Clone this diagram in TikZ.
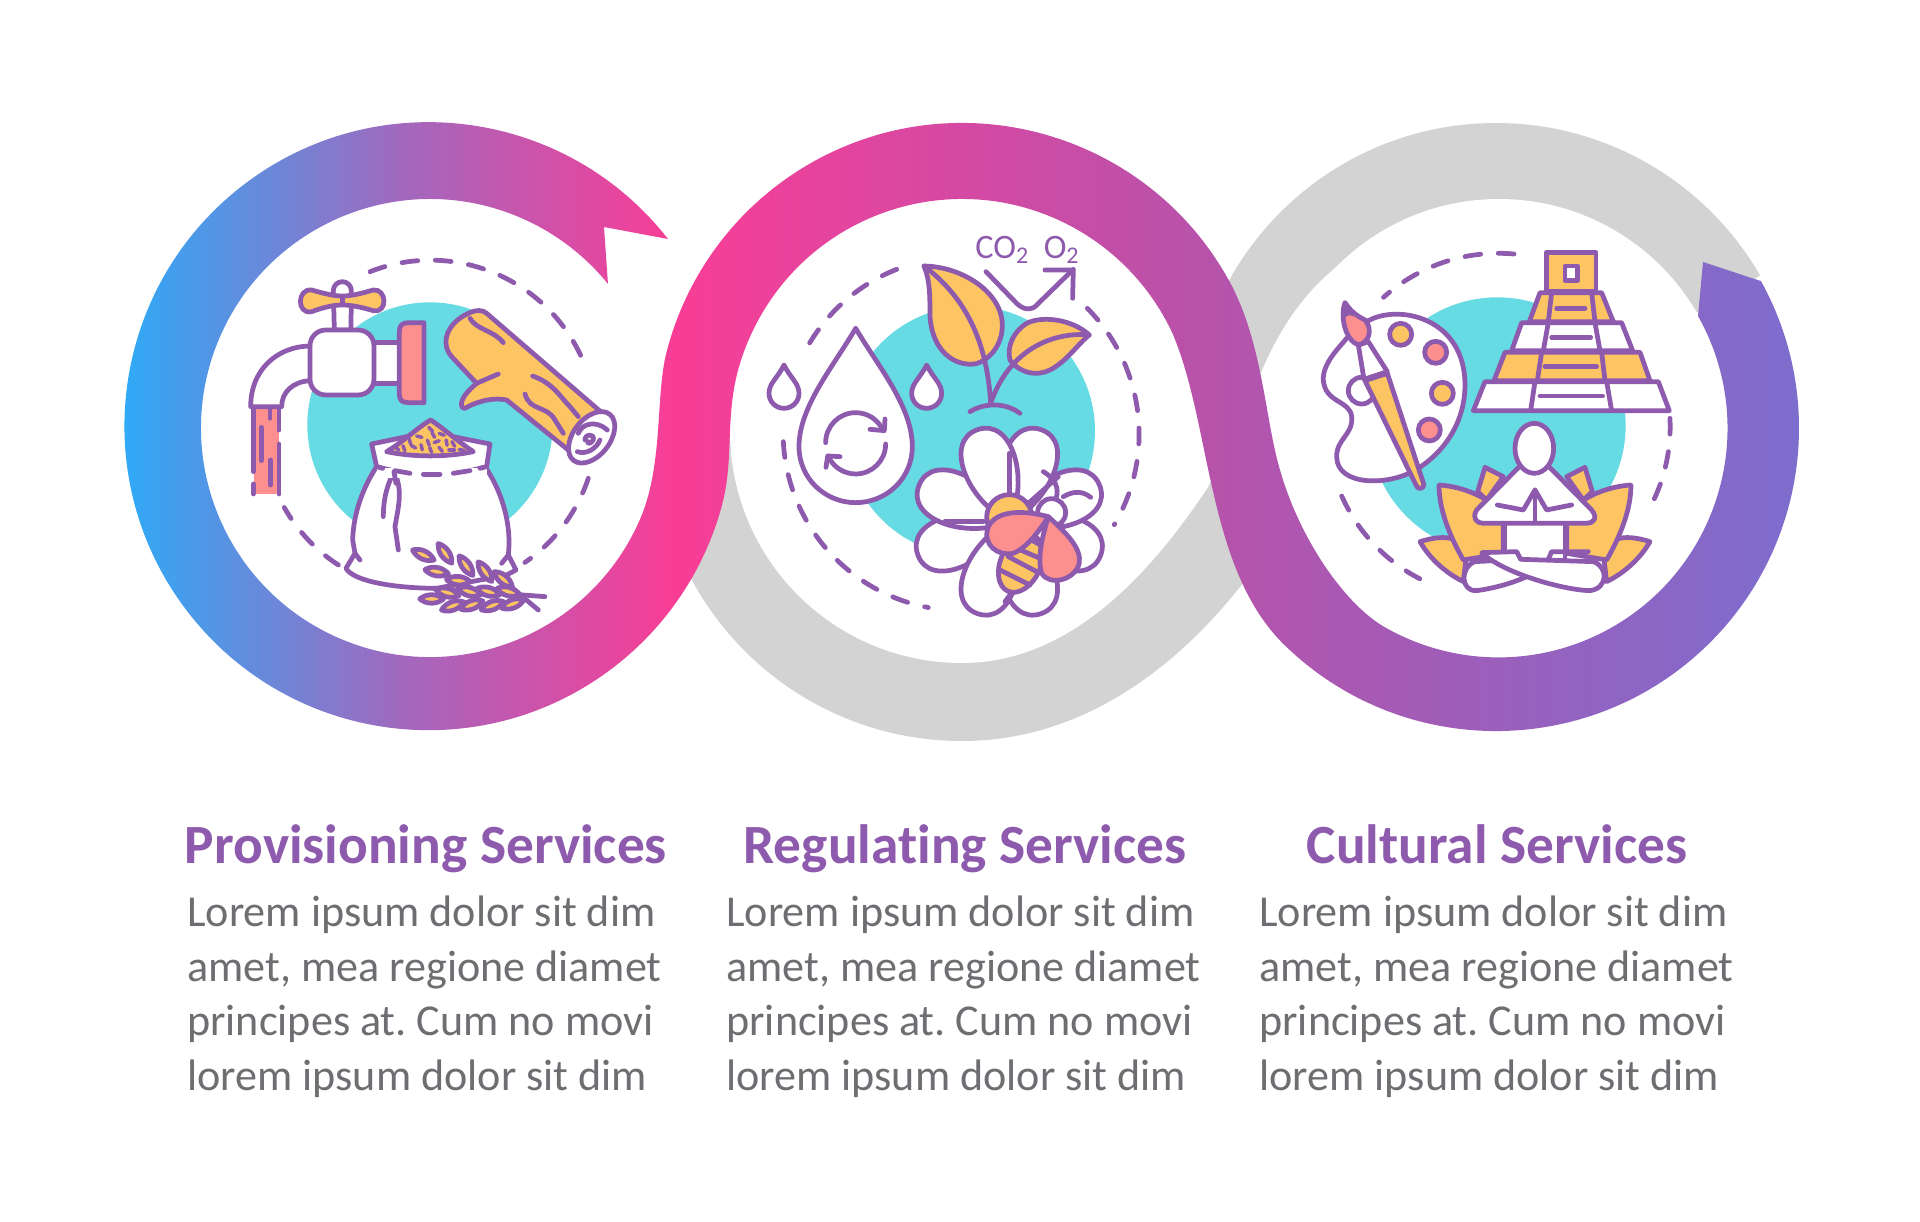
\documentclass[tikz,border=0pt]{standalone}
\usepackage{fontspec}
\setmainfont[Ligatures=NoCommon]{Carlito}
\definecolor{linepurple}{HTML}{8E5AAD}
\definecolor{orangefill}{HTML}{FDC463}
\definecolor{salmonfill}{HTML}{FE8F8F}
\definecolor{cyanfill}{HTML}{67DBE3}
\definecolor{ringgray}{HTML}{D3D3D3}
\definecolor{bodygray}{HTML}{6D6E71}
\definecolor{stopa}{HTML}{1FB3FF}
\definecolor{stopb}{HTML}{A268BD}
\definecolor{stopc}{HTML}{F93D96}
\definecolor{stopd}{HTML}{E2459F}
\definecolor{stope}{HTML}{B852AA}
\definecolor{stopf}{HTML}{7A6ECF}
\pgfdeclarehorizontalshading{ribbonfade}{100bp}{color(0bp)=(stopa); color(25bp)=(stopa); color(34.15bp)=(stopb); color(41.9bp)=(stopc); color(47bp)=(stopd); color(57bp)=(stope); color(75bp)=(stopf); color(100bp)=(stopf)}
\tikzset{
  iconline/.style={draw=linepurple, line width=2.7pt, line cap=round, line join=round},
  dashring/.style={iconline, dash pattern=on 9pt off 10pt},
  titletext/.style={text=linepurple, font=\fontsize{31.5}{36}\selectfont\bfseries, anchor=base},
  bodytext/.style={text=bodygray, font=\frenchspacing\fontsize{25.1}{31}\selectfont, align=left, anchor=north west, inner sep=0pt},
  formula/.style={text=linepurple, font=\fontsize{19.5}{22}\selectfont, inner sep=0pt}
}
\newcommand{\wheatgrain}[3]{\draw[iconline, fill=orangefill, shift={(#1,#2)}, rotate=-#3] (-36,0) .. controls (-15,-17) and (15,-17) .. (36,0) .. controls (15,17) and (-15,17) .. cycle;}
\newcommand{\loremlines}{Lorem ipsum dolor sit dim\\amet, mea regione diamet\\principes at. Cum no movi\\lorem ipsum dolor sit dim}
\begin{document}
\begin{tikzpicture}[x=0.02cm, y=-0.02cm]
  \useasboundingbox (0,0) rectangle (1920,1221);
  \fill[white] (0,0) rectangle (1920,1221);
  \fill[ringgray] (1191,428) arc (180:330:305) -- (1499,428) -- cycle;
  \fill[ringgray] (655,434) arc (180:90:307) .. controls (1080,741) and (1175,670) .. (1243,583) -- (1270,430) -- cycle;
  \fill[white] (430,428) circle (229);
  \fill[white] (1499,428) circle (229);
  \fill[white] (1250,430) -- (1258,380) .. controls (1278,330) and (1305,290) .. (1343,262) -- (1499,428) -- cycle;
  \fill[white] (730,431) arc (180:90:232) .. controls (1060,663) and (1140,590) .. (1208,487) -- (1235,430) -- (1172,333) arc (-25:-180:232) -- cycle;
  \path[shading=ribbonfade] (668,239) arc (-38:-345:304)
    .. controls (737.5,445.5) and (718.5,401) .. (753.5,329.3) arc (206:335:232)
    .. controls (1212,425) and (1206,570) .. (1285.5,646) arc (134:-29:303)
    -- (1703,262) -- (1698,316) arc (-29.4:120:229)
    .. controls (1345,604) and (1300,540) .. (1280,470) .. controls (1265,420) and (1263,343) .. (1229.5,281.5) arc (-28.7:-165:305)
    .. controls (655,392) and (664,462) .. (640.8,517.5) arc (23:321:229)
    -- (604,227) -- cycle;

  \begin{scope}[shift={(220,220)}, scale=0.3333]
    \fill[cyanfill] (630,615) circle (368);
    \draw[dashring] (450,155) arc (-111.4:-22:498);
    \draw[dashring] (1105,775) arc (18.5:55.5:498);
    \draw[dashring] (355,1035) arc (123:150.5:498);
    \fill[salmonfill] (102,565) rectangle (178,822);
    \foreach \xa/\ya/\yb in {100/565/755, 100/792/822, 177/568/630, 177/672/822, 150/568/595, 124/622/722, 152/720/795}
      \draw[iconline] (\xa,\ya) -- (\xa,\yb);
    \draw[iconline, fill=white] (270,378) .. controls (170,380) and (92,450) .. (92,560) -- (185,560) .. controls (185,515) and (220,485) .. (270,482);
    \draw[iconline, fill=white] (340,212) arc (180:360:27) -- (393,330) -- (343,330) -- cycle;
    \draw[iconline, fill=orangefill] (275,210) .. controls (310,220) and (340,228) .. (367,228) .. controls (395,228) and (425,220) .. (460,210) .. controls (500,205) and (505,280) .. (460,272) .. controls (425,262) and (395,255) .. (367,255) .. controls (340,255) and (310,262) .. (275,275) .. controls (230,285) and (230,205) .. cycle;
    \draw[iconline] (368,232) -- (368,254);
    \draw[iconline, fill=white] (462,368) rectangle (538,490);
    \draw[iconline, fill=white, rounded corners=9pt] (270,330) rectangle (462,525);
    \draw[iconline, fill=salmonfill] (612,308) -- (565,308) .. controls (545,308) and (538,318) .. (538,335) -- (538,522) .. controls (538,540) and (545,548) .. (565,548) -- (612,548) -- cycle;

    \draw[iconline, fill=orangefill] (800,280) -- (1150,582) -- (1045,690) -- (860,540) .. controls (810,530) and (760,550) .. (735,565) .. controls (718,565) and (715,535) .. (770,490) -- (695,410) .. controls (660,370) and (680,310) .. (745,280) .. controls (770,268) and (790,270) .. cycle;
    \draw[iconline] (835,462) -- (770,490);
    \draw[iconline] (750,295) .. controls (770,330) and (820,330) .. (850,368);
    \draw[iconline] (938,468) .. controls (1000,490) and (1020,530) .. (1050,560) -- (1075,590);
    \draw[iconline] (915,522) .. controls (930,575) and (980,555) .. (1005,600) -- (1030,640);
    \draw[iconline, fill=white, rotate around={52:(1115,652)}] (1115,652) ellipse (88 and 55);
    \draw[iconline] (1072,695) .. controls (1100,705) and (1130,685) .. (1140,660);
    \draw[iconline] (1075,640) .. controls (1085,610) and (1130,600) .. (1162,630);
    \draw[iconline] (1095,660) .. controls (1095,640) and (1125,640) .. (1120,660) .. controls (1110,675) and (1100,670) .. (1105,665);

    \draw[iconline, fill=white] (470,740) .. controls (430,800) and (400,880) .. (398,960) -- (405,1000) -- (378,1045) .. controls (400,1085) and (530,1105) .. (650,1105) -- (860,1065) -- (888,1050) -- (865,1005) .. controls (875,920) and (850,820) .. (795,740) -- cycle;
    \draw[iconline] (405,1000) -- (420,1020);
    \draw[iconline] (865,1005) -- (845,1030);
    \draw[iconline] (490,890) .. controls (490,820) and (510,780) .. (522,755) .. controls (550,810) and (535,860) .. (525,920) -- (535,990);
    \draw[iconline, fill=white] (455,672) -- (560,650) -- (700,650) -- (810,672) -- (800,740) .. controls (690,770) and (580,770) .. (470,740) -- cycle;
    \draw[iconline, fill=orangefill] (500,695) .. controls (550,665) and (590,625) .. (632,600) .. controls (670,625) and (715,665) .. (760,695) .. controls (680,712) and (580,712) .. cycle;
    \foreach \gx/\gy/\ga in {632/628/45, 598/650/15, 640/645/60, 665/643/20, 570/665/75, 625/668/70, 650/665/-20, 680/668/80, 700/672/60, 530/685/40, 552/685/70, 580/680/30, 605/682/75, 632/690/70, 662/688/50, 695/690/0, 725/690/10}
      \draw[linepurple, line width=2pt, line cap=round, shift={(\gx,\gy)}, rotate=-\ga] (-8,0) -- (8,0);
    \fill[white] (470,745) rectangle (800,775);
    \draw[iconline] (470,740) -- (488,745);
    \draw[iconline] (525,752) -- (570,760);
    \draw[iconline] (610,763) -- (660,763);
    \draw[iconline] (700,760) -- (750,752);
    \draw[iconline] (780,745) -- (800,740);
    \draw[iconline] (522,755) -- (528,790);
    \draw[iconline] (640,1105) -- (975,1130);
    \draw[iconline] (830,1065) -- (955,1170);
    \foreach \gx/\gy/\ga in {610/1005/25, 675/1000/55, 738/1037/55, 795/1055/55, 850/1078/40, 650/1055/10, 715/1082/5, 682/1118/15, 748/1115/15, 805/1115/15, 865/1115/15, 635/1137/0, 698/1158/-20, 755/1155/-20, 817/1157/-20, 878/1152/-20}
      {\wheatgrain{\gx}{\gy}{\ga}}
  \end{scope}

  \begin{scope}[shift={(750,220)}, scale=0.3333]
    \fill[cyanfill] (660,633) circle (375);
    \draw[dashring] (440,148) arc (-111.6:-154:535);
    \draw[dashring] (100,665) arc (177:100.7:535);
    \draw[dashring] (1012,265) arc (-44.8:30.6:535);
    \draw[iconline, fill=white] (317,325) .. controls (250,440) and (147,560) .. (147,680) .. controls (147,775) and (225,848) .. (317,848) .. controls (410,848) and (487,775) .. (487,680) .. controls (487,560) and (385,440) .. cycle;
    \draw[iconline] (227,668) arc (180:335:90);
    \draw[iconline] (360,628) -- (403,632) -- (405,597);
    \draw[iconline] (407,672) arc (0:150:90);
    \draw[iconline] (270,710) -- (233,708) -- (228,742);
    \foreach \dropx in {102,530}
      \draw[iconline, fill=white] (\dropx,435) .. controls ({\dropx-20},475) and ({\dropx-45},490) .. ({\dropx-45},520) .. controls ({\dropx-45},545) and ({\dropx-25},565) .. (\dropx,565) .. controls ({\dropx+25},565) and ({\dropx+45},545) .. ({\dropx+45},520) .. controls ({\dropx+45},490) and ({\dropx+20},475) .. cycle;
    \draw[iconline, fill=orangefill] (522,138) .. controls (640,140) and (760,220) .. (757,320) .. controls (755,390) and (700,435) .. (660,433) .. controls (590,430) and (545,370) .. (540,290) .. controls (540,230) and (540,180) .. cycle;
    \draw[iconline] (522,138) .. controls (630,220) and (710,340) .. (722,550);
    \draw[iconline, fill=orangefill] (1018,345) .. controls (970,300) and (880,285) .. (830,310) .. controls (790,335) and (770,380) .. (780,420) .. controls (810,460) and (860,470) .. (900,450) .. controls (950,425) and (985,370) .. cycle;
    \draw[iconline] (1018,345) .. controls (920,335) and (780,380) .. (722,550);
    \draw[iconline] (660,575) .. controls (710,545) and (770,550) .. (810,580);
    \node[formula] (carbon) at (757,90) {CO\textsubscript{2}};
    \node[formula] (oxygen) at (935,90) {O\textsubscript{2}};
    \draw[iconline] (708,155) -- (800,250) .. controls (830,280) and (855,260) .. (855,260) -- (970,148);
    \draw[iconline] (885,150) -- (970,150) -- (968,235);
    \foreach \petal in {-110,110,-161,161,-68,68,-19,19}
      \draw[iconline, fill=white, shift={(778,905)}, rotate=\petal] (0,0) .. controls (-100,-100) and (-110,-292) .. (0,-292) .. controls (110,-292) and (100,-100) .. (0,0);
    \draw[iconline] (778,700) -- (778,830);
    \draw[iconline] (585,905) -- (700,905);
    \draw[iconline] (925,770) -- (835,850);
    \draw[iconline] (880,755) .. controls (930,785) and (925,820) .. (915,845);
    \draw[iconline] (940,830) .. controls (975,810) and (1000,815) .. (1022,832);
    \draw[iconline, fill=white] (905,878) circle (42);
    \draw[iconline, fill=orangefill] (778,892) circle (68);
    \draw[iconline, fill=orangefill, rotate around={-25:(812,1030)}] (812,1030) ellipse (60 and 92);
    \draw[iconline] (765,1145) -- (785,1118);
    \foreach \xa/\ya/\xb/\yb in {775/1010/860/1055, 750/1050/840/1095, 800/985/870/1015, 835/955/880/980}
      \draw[iconline] (\xa,\ya) -- (\xb,\yb);
    \draw[iconline, fill=salmonfill] (895,890) .. controls (820,870) and (740,870) .. (715,920) .. controls (695,975) and (745,1010) .. (790,1000) .. controls (830,985) and (870,930) .. cycle;
    \draw[iconline, fill=salmonfill] (895,890) .. controls (950,940) and (995,985) .. (988,1030) .. controls (975,1080) and (900,1100) .. (875,1060) .. controls (860,1010) and (880,940) .. cycle;
  \end{scope}

  \begin{scope}[shift={(1290,220)}, scale=0.3333]
    \fill[cyanfill] (622,617) circle (385);
    \draw[dashring] (672,102) arc (-84.8:-131.9:516);
    \draw[dashring] (155,828) arc (156:114.3:516);
    \draw[dashring] (1140,595) arc (-2.8:27.3:516);
    \draw[iconline, fill=white] (230,305) .. controls (320,250) and (525,290) .. (525,495) .. controls (525,600) and (470,690) .. (385,745) .. controls (300,800) and (140,800) .. (140,710) .. controls (140,655) and (190,645) .. (185,590) .. controls (180,540) and (105,550) .. (100,480) .. controls (97,430) and (150,380) .. (170,355) -- cycle;
    \foreach \dotx/\doty/\dotc in {332/343/orangefill, 437/397/salmonfill, 457/520/orangefill, 418/630/salmonfill}
      \draw[iconline, fill=\dotc] (\dotx,\doty) circle (33);
    \draw[iconline, fill=white] (215,512) circle (40);
    \draw[iconline, fill=white] (205,375) -- (222,478) -- (292,455) -- (235,365) -- cycle;
    \draw[iconline, fill=orangefill] (225,482) -- (292,460) -- (402,795) .. controls (398,810) and (382,808) .. (378,795) -- cycle;
    \draw[iconline, fill=salmonfill] (165,248) .. controls (150,290) and (165,360) .. (205,375) .. controls (240,368) and (248,325) .. (225,300) .. controls (195,285) and (180,270) .. cycle;
    \fill[linepurple] (165,248) -- (158,295) -- (178,285) -- (192,290) -- cycle;

    \foreach \topy/\boty/\topl/\topr/\botl/\botr/\inl/\inr/\inbl/\inbr/\fillc in {218/305/750/935/718/970/785/905/775/915/orangefill, 308/392/695/995/665/1028/775/915/760/930/white, 397/482/645/1050/612/1080/755/935/742/945/orangefill, 485/572/585/1105/550/1138/735/950/722/965/white}
      {
      \draw[iconline, fill=\fillc] (\topl,\topy) -- (\topr,\topy) -- (\botr,\boty) -- (\botl,\boty) -- cycle;
      \draw[iconline] (\inl,\topy) -- (\inbl,\boty);
      \draw[iconline] (\inr,\topy) -- (\inbr,\boty);
      }
    \foreach \stepy/\stepa/\stepb in {265/800/885, 352/785/902, 440/765/920, 528/750/938}
      \draw[iconline] (\stepa,\stepy) -- (\stepb,\stepy);
    \draw[iconline, fill=orangefill] (770,98) rectangle (918,215);
    \draw[iconline, fill=white] (825,138) rectangle (862,182);

    \foreach \side in {1,-1}
      {
      \begin{scope}[shift={(735,0)}, xscale=\side]
        \draw[iconline, fill=orangefill] (-150,742) -- (-95,770) -- (-145,840) -- (-172,815) -- cycle;
        \draw[iconline, fill=orangefill] (-345,965) .. controls (-280,945) and (-225,945) .. (-205,1000) -- (-215,1085) .. controls (-285,1050) and (-325,1000) .. cycle;
        \draw[iconline, fill=orangefill] (-288,795) .. controls (-215,800) and (-145,830) .. (-95,880) -- (-95,1000) -- (-215,1020) .. controls (-255,950) and (-288,870) .. cycle;
      \end{scope}
      }
    \draw[iconline, fill=white] (645,905) rectangle (825,1020);
    \draw[iconline, fill=white] (895,995) -- (785,995) -- (775,1018) .. controls (760,1060) and (650,1100) .. (560,1112) .. controls (510,1115) and (510,1040) .. (555,1025) -- (650,1020);
    \draw[iconline, fill=white] (575,998) -- (680,995) -- (692,1018) -- (910,1025) .. controls (955,1040) and (955,1105) .. (900,1112) .. controls (820,1110) and (640,1060) .. cycle;
    \draw[iconline, fill=white] (690,738) -- (560,870) .. controls (545,895) and (560,910) .. (580,910) -- (890,910) .. controls (910,910) and (925,895) .. (905,870) -- (775,738) -- cycle;
    \draw[iconline] (622,855) -- (700,870) -- (735,810) -- (770,870) -- (845,855);
    \draw[iconline] (735,810) -- (735,905);
    \draw[iconline, fill=white] (733,685) ellipse (58 and 75);
  \end{scope}

  \node[titletext] (titleone) at (426,863) {Provisioning Services};
  \node[titletext] (titletwo) at (965,863) {Regulating Services};
  \node[titletext] (titlethree) at (1497,863) {Cultural Services};
  \node[bodytext] (bodyone) at (187,896) {\loremlines};
  \node[bodytext] (bodytwo) at (726,896) {\loremlines};
  \node[bodytext] (bodythree) at (1259,896) {\loremlines};
\end{tikzpicture}
\end{document}
